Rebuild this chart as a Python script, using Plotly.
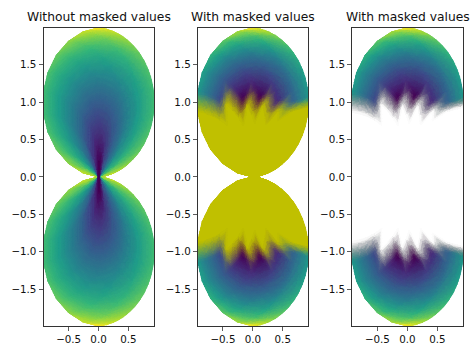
import plotly.graph_objects as go
from plotly.colors import sequential

# Mesh read as a quarter / half of the figure (the mesh is mirror-symmetric)
qx_quarter = [
    [0.000, -0.266, -0.507, -0.706, -0.847, -0.920],
    [0.129, -0.137, -0.378, -0.577, -0.718, -0.791],
    [0.255, -0.011, -0.252, -0.451, -0.592, -0.665],
    [0.375, 0.109, -0.132, -0.331, -0.472, -0.545],
    [0.488, 0.222, -0.020, -0.218, -0.359, -0.432],
    [0.591, 0.325, 0.084, -0.115, -0.256, -0.329],
    [0.683, 0.417, 0.175, -0.023, -0.164, -0.237],
    [0.762, 0.496, 0.255, 0.056, -0.085, -0.158],
    [0.827, 0.561, 0.320, 0.121, -0.020, -0.093],
    [0.877, 0.611, 0.369, 0.171, 0.030, -0.043],
    [0.910, 0.644, 0.403, 0.205, 0.063, -0.010],
    [0.927, 0.661, 0.420, 0.222, 0.080, 0.007],
]
qz_half = [
    [-1.995, -1.939, -1.813, -1.628, -1.395, -1.133, -0.862, -0.600, -0.367, -0.182, -0.056, 0.000],
    [-1.977, -1.921, -1.796, -1.610, -1.378, -1.116, -0.844, -0.582, -0.350, -0.164, -0.038, 0.018],
    [-1.943, -1.887, -1.762, -1.576, -1.343, -1.081, -0.810, -0.548, -0.315, -0.130, -0.004, 0.052],
    [-1.893, -1.837, -1.711, -1.525, -1.293, -1.031, -0.759, -0.497, -0.265, -0.079, 0.047, 0.102],
    [-1.827, -1.771, -1.646, -1.460, -1.227, -0.966, -0.694, -0.432, -0.199, -0.014, 0.112, 0.168],
    [-1.747, -1.691, -1.566, -1.380, -1.148, -0.886, -0.614, -0.352, -0.120, 0.066, 0.192, 0.248],
    [-1.655, -1.599, -1.473, -1.288, -1.055, -0.793, -0.522, -0.260, -0.027, 0.159, 0.284, 0.340],
    [-1.551, -1.495, -1.370, -1.184, -0.952, -0.690, -0.418, -0.156, 0.076, 0.262, 0.388, 0.444],
    [-1.438, -1.382, -1.257, -1.071, -0.839, -0.577, -0.305, -0.043, 0.189, 0.375, 0.501, 0.557],
    [-1.318, -1.262, -1.136, -0.951, -0.718, -0.456, -0.184, 0.078, 0.310, 0.496, 0.621, 0.677],
    [-1.192, -1.136, -1.010, -0.825, -0.592, -0.330, -0.059, 0.203, 0.436, 0.622, 0.747, 0.803],
    [-1.063, -1.007, -0.881, -0.695, -0.463, -0.201, 0.071, 0.333, 0.565, 0.751, 0.876, 0.932],
]
z_quarter = [
    [1.0000, 0.9136, 0.8382, 0.7767, 0.7329, 0.7100],
    [0.9575, 0.8669, 0.7870, 0.7212, 0.6738, 0.6488],
    [0.9172, 0.8221, 0.7374, 0.6667, 0.6151, 0.5877],
    [0.8793, 0.7797, 0.6897, 0.6136, 0.5571, 0.5266],
    [0.8442, 0.7399, 0.6443, 0.5621, 0.4999, 0.4656],
    [0.8122, 0.7032, 0.6018, 0.5129, 0.4438, 0.4048],
    [0.7838, 0.6701, 0.5629, 0.4665, 0.3893, 0.3442],
    [0.7593, 0.6413, 0.5283, 0.4241, 0.3373, 0.2841],
    [0.7391, 0.6173, 0.4988, 0.3868, 0.2890, 0.2246],
    [0.7236, 0.5986, 0.4755, 0.3563, 0.2466, 0.1666],
    [0.7131, 0.5858, 0.4594, 0.3344, 0.2138, 0.1125],
    [0.7078, 0.5794, 0.4511, 0.3229, 0.1953, 0.0713],
]
mask_level = 0.9975
titles = ["Without masked values", "With masked values", "With masked values"]
x_ticks = [-0.5, 0.0, 0.5]
x_tick_labels = ["\u22120.5", "0.0", "0.5"]
y_ticks = [-1.5, -1.0, -0.5, 0.0, 0.5, 1.0, 1.5]
y_tick_labels = ["\u22121.5", "\u22121.0", "\u22120.5", "0.0", "0.5", "1.0", "1.5"]

# Expand the mirrored parts into the full 24 x 12 mesh
def mirror_rows(rows):
    full = [r + r[::-1] for r in rows]
    return full + full[::-1]

Qx = mirror_rows(qx_quarter)
Z = mirror_rows(z_quarter)
Qz = qz_half + [[-v for v in r[::-1]] for r in qz_half[::-1]]
N_ROW, N_COL = len(Qx), len(Qx[0])

W, H = 474, 355
PANEL_X = [(43.5, 154.0), (197.8, 308.3), (352.2, 463.0)]
PANEL_Y = (27.8, 326.0)
SUB = 6
QUANT = 3

def hex_rgb(h):
    return tuple(int(h[i:i + 2], 16) / 255 for i in (1, 3, 5))

stops = [hex_rgb(c) for c in sequential.Viridis]

def viridis(t):
    t = max(0.0, min(1.0, t)) * (len(stops) - 1)
    i = min(int(t), len(stops) - 2)
    f = t - i
    return tuple(stops[i][k] * (1 - f) + stops[i + 1][k] * f for k in range(3))

def vertex_colours(use_mask, bad):
    vals = [Z[j][i] for j in range(N_ROW) for i in range(N_COL)
            if not (use_mask and abs(Qz[j][i]) < mask_level)]
    lo, hi = min(vals), max(vals)
    out = []
    for j in range(N_ROW):
        row = []
        for i in range(N_COL):
            if use_mask and abs(Qz[j][i]) < mask_level:
                row.append(bad)
            else:
                row.append(viridis((Z[j][i] - lo) / (hi - lo)) + (1.0,))
        out.append(row)
    return out

def add_tri(groups, a, b, c):
    # a, b, c are (x, y, r, g, b, alpha); split into small flat triangles
    def bary(u, v):
        w = SUB - u - v
        return tuple((a[k] * u + b[k] * v + c[k] * w) / SUB for k in range(6))
    for u in range(SUB):
        for v in range(SUB - u):
            tris = [(bary(u, v), bary(u + 1, v), bary(u, v + 1))]
            if u + v < SUB - 1:
                tris.append((bary(u + 1, v), bary(u + 1, v + 1), bary(u, v + 1)))
            for t in tris:
                col = [sum(p[k] for p in t) / 3 for k in (2, 3, 4)]
                al = sum(p[5] for p in t) / 3
                key = tuple(min(255, round((col[k] * al + 1 - al) * 255 / QUANT) * QUANT) for k in range(3))
                if key == (255, 255, 255):
                    continue
                g = groups.setdefault(key, ([], []))
                g[0].extend([round(t[0][0], 3), round(t[1][0], 3), round(t[2][0], 3), round(t[0][0], 3), None])
                g[1].extend([round(t[0][1], 3), round(t[1][1], 3), round(t[2][1], 3), round(t[0][1], 3), None])

def mesh_groups(cols):
    groups = {}
    for j in range(N_ROW - 1):
        for i in range(N_COL - 1):
            corners = [(j, i), (j, i + 1), (j + 1, i + 1), (j + 1, i)]
            pts = [(Qx[r][s], Qz[r][s]) + tuple(cols[r][s]) for r, s in corners]
            centre = tuple(sum(p[k] for p in pts) / 4 for k in range(6))
            for n in range(4):
                add_tri(groups, pts[n], pts[(n + 1) % 4], centre)
    return groups

panels = [
    vertex_colours(False, None),
    vertex_colours(True, (0.75, 0.75, 0.0, 1.0)),
    vertex_colours(True, (0.0, 0.0, 0.0, 0.0)),
]

fig = go.Figure()
x_min = min(min(r) for r in Qx)
x_max = max(max(r) for r in Qx)
y_min = min(min(r) for r in Qz)
y_max = max(max(r) for r in Qz)

tick_font = dict(family="DejaVu Sans", size=10.3, color="#111111")
layout = dict(width=W, height=H, margin=dict(l=0, r=0, t=0, b=0), autosize=False,
              showlegend=False, paper_bgcolor="white", plot_bgcolor="white", annotations=[],
              hovermode=False)

for p, cols in enumerate(panels):
    suffix = "" if p == 0 else str(p + 1)
    for (r, g, b), (xs, ys) in mesh_groups(cols).items():
        colour = f"rgb({r},{g},{b})"
        fig.add_trace(go.Scatter(x=xs, y=ys, mode="lines", fill="toself", fillcolor=colour,
                                 line=dict(color=colour, width=1.0, simplify=False),
                                 hoverinfo="skip", xaxis="x" + suffix, yaxis="y" + suffix))
    x0, x1 = PANEL_X[p]
    layout["xaxis" + suffix] = dict(
        domain=[x0 / W, x1 / W], range=[x_min, x_max], anchor="y" + suffix,
        tickvals=x_ticks, ticktext=x_tick_labels, ticks="outside", ticklen=4, tickwidth=0.8,
        tickcolor="#333333", showgrid=False, zeroline=False, showline=True, mirror=True,
        linecolor="#333333", linewidth=1, tickfont=tick_font)
    layout["yaxis" + suffix] = dict(
        domain=[1 - PANEL_Y[1] / H, 1 - PANEL_Y[0] / H], range=[y_min, y_max], anchor="x" + suffix,
        tickvals=y_ticks, ticktext=y_tick_labels, ticks="outside", ticklen=4, tickwidth=0.8,
        tickcolor="#333333", showgrid=False, zeroline=False, showline=True, mirror=True,
        linecolor="#333333", linewidth=1, tickfont=tick_font)
    layout["annotations"].append(dict(
        text=titles[p], x=(x0 + x1) / 2 / W, y=1 - 17 / H, xref="paper", yref="paper",
        xanchor="center", yanchor="middle", showarrow=False,
        font=dict(family="DejaVu Sans", size=12.3, color="#111111")))

fig.update_layout(**layout)
fig.write_html("out.html", config=dict(displayModeBar=False, staticPlot=True),
               post_script="document.body.style.margin='0';")
